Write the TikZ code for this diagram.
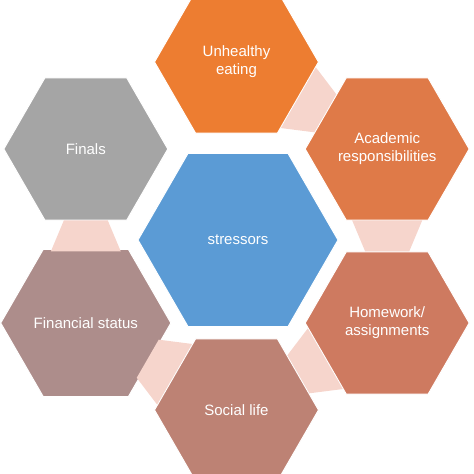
\documentclass[tikz,border=0pt]{standalone}
\usepackage{fontspec}
\setmainfont{Liberation Sans}
\usetikzlibrary{calc}
\usetikzlibrary{shapes.geometric}
\definecolor{blauwabe}{HTML}{5B9BD5}
\definecolor{eatingfill}{HTML}{ED7D31}
\definecolor{academicfill}{HTML}{DF7A48}
\definecolor{homeworkfill}{HTML}{CE7A60}
\definecolor{socialfill}{HTML}{BD8274}
\definecolor{financialfill}{HTML}{AD8D8B}
\definecolor{finalsfill}{HTML}{A5A5A5}
\definecolor{stegfill}{HTML}{F6D5CC}
\tikzset{
	wabe/.style={
		regular polygon,
		regular polygon sides=6,
		minimum size=164pt,
		inner sep=0pt, outer sep=0pt,
		draw=white, line width=1pt,
		text=white,
		align=center,
		font=\fontsize{15}{18}\selectfont},
	mittelwabe/.style={
		wabe,
		minimum size=200pt,
		fill=blauwabe},
	steg/.style={fill=stegfill},
}
\begin{document}
\begin{tikzpicture}[x=1pt,y=1pt]
	\useasboundingbox (0,0) rectangle (474,474);
	\clip (0,0) rectangle (474,474);
	\coordinate (ring) at (236.5,238);
	\node[mittelwabe] (stress) at (238,234) {stressors};
	\node[wabe, fill=eatingfill] (eating) at ($(ring)+(90:174)$) {Unhealthy\\eating};
	\node[wabe, fill=academicfill] (academic) at ($(ring)+(30:174)$) {Academic\\responsibilities};
	\node[wabe, fill=homeworkfill] (homework) at ($(ring)+(-30:174)$) {Homework/\\assignments};
	\node[wabe, fill=socialfill] (social) at ($(ring)+(-90:174)$) {Social life};
	\node[wabe, fill=financialfill] (financial) at ($(ring)+(210:174)$) {Financial status};
	\node[wabe, fill=finalsfill] (finals) at ($(ring)+(150:174)$) {Finals};
	
	% stege zwischen den waben
	\fill[steg] ($(eating.center)!71.5pt!(academic.center)!35pt!90:(academic.center)$) -- ($(eating.center)!71.5pt!(academic.center)!35pt!-90:(academic.center)$) -- ($(academic.center)!71.5pt!(eating.center)!22pt!90:(eating.center)$) -- ($(academic.center)!71.5pt!(eating.center)!22pt!-90:(eating.center)$) -- cycle;
	\fill[steg] ($(academic.center)!71.5pt!(homework.center)!35pt!90:(homework.center)$) -- ($(academic.center)!71.5pt!(homework.center)!35pt!-90:(homework.center)$) -- ($(homework.center)!71.5pt!(academic.center)!22pt!90:(academic.center)$) -- ($(homework.center)!71.5pt!(academic.center)!22pt!-90:(academic.center)$) -- cycle;
	\fill[steg] ($(homework.center)!71.5pt!(social.center)!35pt!90:(social.center)$) -- ($(homework.center)!71.5pt!(social.center)!35pt!-90:(social.center)$) -- ($(social.center)!71.5pt!(homework.center)!22pt!90:(homework.center)$) -- ($(social.center)!71.5pt!(homework.center)!22pt!-90:(homework.center)$) -- cycle;
	\fill[steg] ($(social.center)!71.5pt!(financial.center)!35pt!90:(financial.center)$) -- ($(social.center)!71.5pt!(financial.center)!35pt!-90:(financial.center)$) -- ($(financial.center)!71.5pt!(social.center)!22pt!90:(social.center)$) -- ($(financial.center)!71.5pt!(social.center)!22pt!-90:(social.center)$) -- cycle;
	\fill[steg] ($(financial.center)!71.5pt!(finals.center)!35pt!90:(finals.center)$) -- ($(financial.center)!71.5pt!(finals.center)!35pt!-90:(finals.center)$) -- ($(finals.center)!71.5pt!(financial.center)!22pt!90:(financial.center)$) -- ($(finals.center)!71.5pt!(financial.center)!22pt!-90:(financial.center)$) -- cycle;
\end{tikzpicture}
\end{document}
